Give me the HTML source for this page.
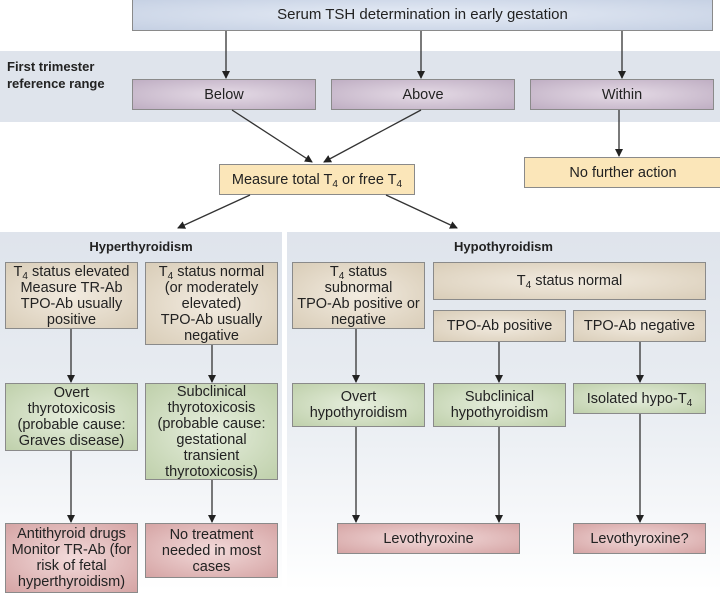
<!DOCTYPE html>
<html><head><meta charset="utf-8"><style>
body{margin:0;width:720px;height:591px;position:relative;background:#fff;font-family:"Liberation Sans",sans-serif;color:#222;overflow:hidden}
.b{position:absolute;box-sizing:border-box;border:1.5px solid #8a8a8a;display:flex;align-items:center;justify-content:center;text-align:center;font-size:14.5px;line-height:16px}
.b>div{display:block}
.blue{background:radial-gradient(ellipse at center,#e6ecf6,#c5d0e3)}
.pur{background:radial-gradient(ellipse at center,#e5dbe6,#bfaec3)}
.yel{background:#fbe6b9}
.tan{background:radial-gradient(ellipse at center,#f2ebe0,#d9cdb8)}
.grn{background:radial-gradient(ellipse at center,#e6eedd,#bfd0ab)}
.red{background:radial-gradient(ellipse at center,#f2dada,#d5a4a4)}
.panel{position:absolute;background:linear-gradient(#dfe4ec,#e9edf2 50%,#fff)}
sub{font-size:10px;position:relative;top:3px;vertical-align:baseline;line-height:0}
.t{position:absolute;font-weight:bold;font-size:13px}
</style></head><body>
<div style="position:absolute;left:0;top:51px;width:720px;height:71px;background:#dfe4ec"></div>
<div class="panel" style="left:0;top:232px;width:282px;height:359px"></div>
<div class="panel" style="left:287px;top:232px;width:433px;height:359px"></div>
<div class="t" style="left:7px;top:58px;line-height:17px">First trimester<br>reference range</div>
<div class="t" style="left:0;width:282px;text-align:center;top:239px">Hyperthyroidism</div>
<div class="t" style="left:287px;width:433px;text-align:center;top:239px">Hypothyroidism</div>

<div class="b blue" style="left:132px;top:-2px;width:581px;height:33px;font-size:15px"><div>Serum TSH determination in early gestation</div></div>
<div class="b pur" style="left:132px;top:79px;width:184px;height:31px"><div>Below</div></div>
<div class="b pur" style="left:331px;top:79px;width:184px;height:31px"><div>Above</div></div>
<div class="b pur" style="left:530px;top:79px;width:184px;height:31px"><div>Within</div></div>
<div class="b yel" style="left:219px;top:164px;width:196px;height:31px"><div>Measure total T<sub>4</sub> or free T<sub>4</sub></div></div>
<div class="b yel" style="left:524px;top:157px;width:198px;height:31px"><div>No further action</div></div>

<div class="b tan" style="left:5px;top:262px;width:133px;height:67px"><div>T<sub>4</sub> status elevated<br>Measure TR-Ab<br>TPO-Ab usually<br>positive</div></div>
<div class="b tan" style="left:145px;top:262px;width:133px;height:83px"><div>T<sub>4</sub> status normal<br>(or moderately<br>elevated)<br>TPO-Ab usually<br>negative</div></div>
<div class="b grn" style="left:5px;top:383px;width:133px;height:68px"><div>Overt<br>thyrotoxicosis<br>(probable cause:<br>Graves disease)</div></div>
<div class="b grn" style="left:145px;top:383px;width:133px;height:97px"><div>Subclinical<br>thyrotoxicosis<br>(probable cause:<br>gestational<br>transient<br>thyrotoxicosis)</div></div>
<div class="b red" style="left:5px;top:523px;width:133px;height:70px"><div>Antithyroid drugs<br>Monitor TR-Ab (for<br>risk of fetal<br>hyperthyroidism)</div></div>
<div class="b red" style="left:145px;top:523px;width:133px;height:55px"><div>No treatment<br>needed in most<br>cases</div></div>

<div class="b tan" style="left:292px;top:262px;width:133px;height:67px"><div>T<sub>4</sub> status<br>subnormal<br>TPO-Ab positive or<br>negative</div></div>
<div class="b tan" style="left:433px;top:262px;width:273px;height:38px"><div>T<sub>4</sub> status normal</div></div>
<div class="b tan" style="left:433px;top:310px;width:133px;height:32px"><div>TPO-Ab positive</div></div>
<div class="b tan" style="left:573px;top:310px;width:133px;height:32px"><div>TPO-Ab negative</div></div>
<div class="b grn" style="left:292px;top:383px;width:133px;height:44px"><div>Overt<br>hypothyroidism</div></div>
<div class="b grn" style="left:433px;top:383px;width:133px;height:44px"><div>Subclinical<br>hypothyroidism</div></div>
<div class="b grn" style="left:573px;top:383px;width:133px;height:31px"><div>Isolated hypo-T<sub>4</sub></div></div>
<div class="b red" style="left:337px;top:523px;width:183px;height:31px"><div>Levothyroxine</div></div>
<div class="b red" style="left:573px;top:523px;width:133px;height:31px"><div>Levothyroxine?</div></div>

<svg width="720" height="591" style="position:absolute;left:0;top:0">
<defs><marker id="a" markerWidth="8" markerHeight="8" refX="7" refY="4" orient="auto" markerUnits="userSpaceOnUse"><path d="M0,0 L8,4 L0,8 Z" fill="#222"/></marker></defs>
<g stroke="#333" stroke-width="1.3" marker-end="url(#a)">
<line x1="226" y1="31" x2="226" y2="78"/>
<line x1="421" y1="31" x2="421" y2="78"/>
<line x1="622" y1="31" x2="622" y2="78"/>
<line x1="232" y1="110" x2="312" y2="162"/>
<line x1="421" y1="110" x2="324" y2="162"/>
<line x1="619" y1="110" x2="619" y2="156"/>
<line x1="250" y1="195" x2="178" y2="228"/>
<line x1="386" y1="195" x2="457" y2="228"/>
<line x1="71" y1="329" x2="71" y2="382"/>
<line x1="212" y1="345" x2="212" y2="382"/>
<line x1="71" y1="451" x2="71" y2="522"/>
<line x1="212" y1="480" x2="212" y2="522"/>
<line x1="356" y1="329" x2="356" y2="382"/>
<line x1="499" y1="342" x2="499" y2="382"/>
<line x1="640" y1="342" x2="640" y2="382"/>
<line x1="356" y1="427" x2="356" y2="522"/>
<line x1="499" y1="427" x2="499" y2="522"/>
<line x1="640" y1="414" x2="640" y2="522"/>
</g></svg>
</body></html>
